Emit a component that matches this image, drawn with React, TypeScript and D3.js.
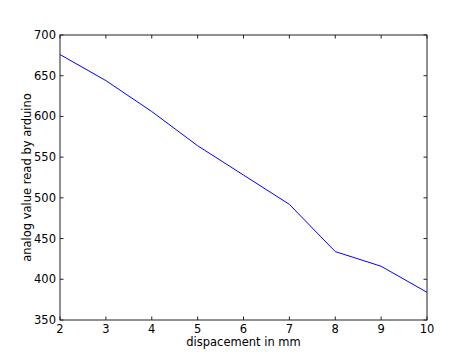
import React from "react";
import * as d3 from "d3";

const xValues = [2, 3, 4, 5, 6, 7, 8, 9, 10];
const yValues = [676, 644, 606, 564, 528, 492, 434, 416, 384];
const xTicks = [2, 3, 4, 5, 6, 7, 8, 9, 10];
const yTicks = [350, 400, 450, 500, 550, 600, 650, 700];

const W = 474, H = 355;
const L = 60, R = 427, T = 35, B = 320;

export default function App() {
  const x = d3.scaleLinear().domain([2, 10]).range([L, R]);
  const y = d3.scaleLinear().domain([350, 700]).range([B, T]);
  const line = d3.line<number>().x((_, i) => x(xValues[i])).y((d) => y(d));
  const font = "DejaVu Sans, sans-serif";
  const tl = 3.5;
  return (
    <svg width={W} height={H} style={{ position: "absolute", left: 0, top: 0 }}>
      <rect width={W} height={H} fill="white" />
      <path d={line(yValues) || ""} fill="none" stroke="#0000ff" strokeWidth={1} />
      <rect x={L} y={T} width={R - L} height={B - T} fill="none" stroke="#222" strokeWidth={1} />
      {xTicks.map((t) => (
        <g key={"x" + t}>
          <line x1={x(t)} x2={x(t)} y1={B} y2={B - tl} stroke="#222" />
          <line x1={x(t)} x2={x(t)} y1={T} y2={T + tl} stroke="#222" />
          <text x={x(t)} y={B + 13} textAnchor="middle" fontFamily={font} fontSize={11.5}>{t}</text>
        </g>
      ))}
      {yTicks.map((t) => (
        <g key={"y" + t}>
          <line x1={L} x2={L + tl} y1={y(t)} y2={y(t)} stroke="#222" />
          <line x1={R} x2={R - tl} y1={y(t)} y2={y(t)} stroke="#222" />
          <text x={L - 4} y={y(t) + 4} textAnchor="end" fontFamily={font} fontSize={11.5}>{t}</text>
        </g>
      ))}
      <text x={(L + R) / 2} y={B + 26} textAnchor="middle" fontFamily={font} fontSize={11.5}>dispacement in mm</text>
      <text transform={`translate(31,${(T + B) / 2}) rotate(-90)`} textAnchor="middle" fontFamily={font} fontSize={11.5}>analog value read by arduino</text>
    </svg>
  );
}
